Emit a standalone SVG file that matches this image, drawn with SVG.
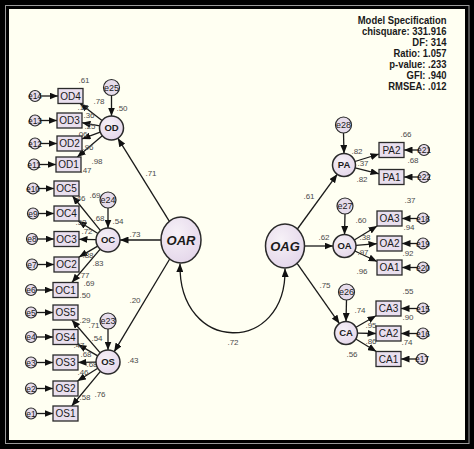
<svg xmlns="http://www.w3.org/2000/svg" width="474" height="449" viewBox="0 0 474 449">
<defs>
<marker id="ah" markerUnits="userSpaceOnUse" markerWidth="9" markerHeight="7" refX="8.5" refY="3.5" orient="auto-start-reverse"><path d="M0,0 L8.5,3.5 L0,7 z" fill="#111"/></marker>
<radialGradient id="lg" cx="0.4" cy="0.35" r="0.7"><stop offset="0" stop-color="#F6F1F7"/><stop offset="1" stop-color="#E4D6EA"/></radialGradient>
<style>
.ln{stroke:#1a1a1a;stroke-width:1.3;fill:none;marker-end:url(#ah)}
.rc{fill:#E9DFEE;stroke:#2a2a2a;stroke-width:1.3}
.lat{fill:url(#lg);stroke:#2a2a2a;stroke-width:1.5}
.er{fill:#E6DCEB;stroke:#2a2a2a;stroke-width:1.2}
text{font-family:"Liberation Sans",Arial,sans-serif;fill:#1a1a1a;text-anchor:middle}
.tr{font-size:10px}
.tl{font-size:9.5px;font-weight:bold}
.tb{font-size:13px;font-weight:bold;font-style:italic}
.te{font-size:9px}
.ts{font-size:8.5px}
.tc{font-size:8px;fill:#4a4a4a}
.fit{font-size:11px;font-weight:bold;text-anchor:end}
</style>
</defs>
<rect x="0" y="0" width="474" height="449" fill="#000"/>
<rect x="5.5" y="5.5" width="463.5" height="438" fill="none" stroke="#9a9a9a" stroke-width="1"/>
<rect x="9" y="9" width="456" height="431" fill="#FFFFF2"/>

<g id="fit" transform="translate(446.5,0) scale(0.86,1)">
<text class="fit" x="0" y="24">Model Specification</text>
<text class="fit" x="0" y="35">chisquare: 331.916</text>
<text class="fit" x="0" y="46">DF: 314</text>
<text class="fit" x="0" y="57">Ratio: 1.057</text>
<text class="fit" x="0" y="68">p-value: .233</text>
<text class="fit" x="0" y="79">GFI: .940</text>
<text class="fit" x="0" y="90">RMSEA: .012</text>
</g>

<g id="connectors">
<line class="ln" x1="40.5" y1="96" x2="58" y2="96"/>
<line class="ln" x1="40.5" y1="120.5" x2="57" y2="120.5"/>
<line class="ln" x1="40.5" y1="143.5" x2="57" y2="143.5"/>
<line class="ln" x1="39.5" y1="164.5" x2="56" y2="164.5"/>
<line class="ln" x1="38.5" y1="188.5" x2="54" y2="188.5"/>
<line class="ln" x1="38.5" y1="213.5" x2="54" y2="213.5"/>
<line class="ln" x1="37.5" y1="239" x2="54" y2="239"/>
<line class="ln" x1="37.5" y1="264.5" x2="54" y2="264.5"/>
<line class="ln" x1="36.5" y1="290" x2="53" y2="290"/>
<line class="ln" x1="36.5" y1="312.5" x2="53" y2="312.5"/>
<line class="ln" x1="36.5" y1="337" x2="53" y2="337"/>
<line class="ln" x1="36.5" y1="362.5" x2="53" y2="362.5"/>
<line class="ln" x1="36.5" y1="388.5" x2="53" y2="388.5"/>
<line class="ln" x1="36.5" y1="413.5" x2="53" y2="413.5"/>
<line class="ln" x1="102" y1="120.6" x2="80.1" y2="103.5"/>
<line class="ln" x1="99.7" y1="125.9" x2="82" y2="122.7"/>
<line class="ln" x1="100.2" y1="132.2" x2="82" y2="138.9"/>
<line class="ln" x1="102.3" y1="135.8" x2="77.3" y2="157"/>
<line class="ln" x1="100.5" y1="230.7" x2="72.5" y2="196"/>
<line class="ln" x1="97.9" y1="233.5" x2="78.2" y2="221"/>
<line class="ln" x1="96" y1="239.7" x2="79" y2="239.3"/>
<line class="ln" x1="97.7" y1="246.1" x2="79" y2="257.1"/>
<line class="ln" x1="100.2" y1="249.1" x2="71.9" y2="282.5"/>
<line class="ln" x1="100.2" y1="352.9" x2="71.9" y2="320"/>
<line class="ln" x1="97.7" y1="355.9" x2="78" y2="344.4"/>
<line class="ln" x1="96" y1="362.1" x2="78" y2="362.4"/>
<line class="ln" x1="97.8" y1="368.3" x2="77.5" y2="381"/>
<line class="ln" x1="100.4" y1="371.3" x2="71.7" y2="406"/>
<line class="ln" x1="111.5" y1="95.5" x2="111.5" y2="116"/>
<line class="ln" x1="108" y1="208" x2="108" y2="228"/>
<line class="ln" x1="108" y1="329" x2="108" y2="350"/>
<line class="ln" x1="343.5" y1="133" x2="344" y2="153.5"/>
<line class="ln" x1="345" y1="214" x2="344.5" y2="234.5"/>
<line class="ln" x1="346.5" y1="300" x2="346" y2="321.5"/>
<line class="ln" x1="169.4" y1="221.3" x2="117.8" y2="138.2"/>
<line class="ln" x1="161" y1="240" x2="120" y2="240"/>
<line class="ln" x1="169.7" y1="259" x2="114.2" y2="351.7"/>
<line class="ln" x1="297.4" y1="229" x2="337.2" y2="174.3"/>
<line class="ln" x1="304.5" y1="246" x2="333" y2="246"/>
<line class="ln" x1="297.1" y1="263.3" x2="339.4" y2="323.6"/>
<line class="ln" x1="355" y1="161.5" x2="379" y2="154"/>
<line class="ln" x1="355.1" y1="167.8" x2="379" y2="173.8"/>
<line class="ln" x1="354.3" y1="240" x2="377.2" y2="226"/>
<line class="ln" x1="356" y1="245.4" x2="377" y2="243.7"/>
<line class="ln" x1="354.9" y1="251" x2="377" y2="261.5"/>
<line class="ln" x1="356" y1="327.3" x2="376" y2="315.7"/>
<line class="ln" x1="357.5" y1="333.1" x2="376" y2="333.5"/>
<line class="ln" x1="355.8" y1="339" x2="376.3" y2="351.5"/>
<line class="ln" x1="418.5" y1="150" x2="404" y2="150"/>
<line class="ln" x1="418.5" y1="177" x2="404" y2="177"/>
<line class="ln" x1="417.5" y1="218.5" x2="402" y2="218.5"/>
<line class="ln" x1="417.5" y1="243.5" x2="402" y2="243.5"/>
<line class="ln" x1="417.5" y1="267.5" x2="402" y2="267.5"/>
<line class="ln" x1="417.5" y1="308.5" x2="401" y2="308.5"/>
<line class="ln" x1="417.5" y1="333.5" x2="401" y2="333.5"/>
<line class="ln" x1="416.5" y1="359" x2="401" y2="359"/>
<path d="M180,263.5 C178,355 287,355 285,268.5" stroke="#1a1a1a" stroke-width="1.3" fill="none" marker-start="url(#ah)" marker-end="url(#ah)"/>
</g>

<g id="coefficients">
<text class="tc" x="84" y="83">.61</text>
<text class="tc" x="99" y="104">.78</text>
<text class="tc" x="122" y="111">.50</text>
<text class="tc" x="83" y="110">.13</text>
<text class="tc" x="89" y="118">.36</text>
<text class="tc" x="90" y="129">.25</text>
<text class="tc" x="82" y="137">.06</text>
<text class="tc" x="88" y="150">.96</text>
<text class="tc" x="97" y="164">.98</text>
<text class="tc" x="86" y="173">.47</text>
<text class="tc" x="95" y="198">.69</text>
<text class="tc" x="80" y="201">.46</text>
<text class="tc" x="99" y="221">.68</text>
<text class="tc" x="118" y="224">.54</text>
<text class="tc" x="81" y="225">.52</text>
<text class="tc" x="87" y="234">.72</text>
<text class="tc" x="135" y="237">.73</text>
<text class="tc" x="88" y="258">.88</text>
<text class="tc" x="98" y="266">.83</text>
<text class="tc" x="84" y="278">.77</text>
<text class="tc" x="89" y="286">.69</text>
<text class="tc" x="85" y="298">.50</text>
<text class="tc" x="135" y="303">.20</text>
<text class="tc" x="85" y="323">.29</text>
<text class="tc" x="94" y="328">.71</text>
<text class="tc" x="97" y="341">.54</text>
<text class="tc" x="79" y="348">.47</text>
<text class="tc" x="86" y="357">.68</text>
<text class="tc" x="92" y="367">.68</text>
<text class="tc" x="83" y="375">.46</text>
<text class="tc" x="133" y="363">.43</text>
<text class="tc" x="85" y="400">.58</text>
<text class="tc" x="100" y="397">.76</text>
<text class="tc" x="151" y="176">.71</text>
<text class="tc" x="233" y="345">.72</text>
<text class="tc" x="406" y="137">.66</text>
<text class="tc" x="357" y="154">.82</text>
<text class="tc" x="413" y="163">.68</text>
<text class="tc" x="363" y="166">.37</text>
<text class="tc" x="362" y="182">.82</text>
<text class="tc" x="309" y="199">.61</text>
<text class="tc" x="410" y="203">.37</text>
<text class="tc" x="361" y="223">.60</text>
<text class="tc" x="409" y="230">.94</text>
<text class="tc" x="365" y="240">.38</text>
<text class="tc" x="324" y="240">.62</text>
<text class="tc" x="363" y="255">.97</text>
<text class="tc" x="408" y="256">.92</text>
<text class="tc" x="362" y="274">.96</text>
<text class="tc" x="325" y="288">.75</text>
<text class="tc" x="408" y="294">.55</text>
<text class="tc" x="360" y="313">.74</text>
<text class="tc" x="408" y="320">.90</text>
<text class="tc" x="371" y="328">.95</text>
<text class="tc" x="371" y="344">.86</text>
<text class="tc" x="407" y="345">.74</text>
<text class="tc" x="352" y="357">.56</text>
</g>

<g id="OAR"><ellipse class="lat" cx="181" cy="240" rx="20" ry="23"/><text class="tb" x="181" y="244.7">OAR</text></g>
<g id="OAG"><ellipse class="lat" cx="285" cy="246" rx="19.5" ry="22"/><text class="tb" x="285" y="250.7">OAG</text></g>
<g id="OD"><circle class="lat" cx="111.5" cy="128" r="12"/><text class="tl" x="111.5" y="131.4">OD</text></g>
<g id="OC"><circle class="lat" cx="108" cy="240" r="12"/><text class="tl" x="108" y="243.4">OC</text></g>
<g id="OS"><circle class="lat" cx="108" cy="362" r="12"/><text class="tl" x="108" y="365.4">OS</text></g>
<g id="PA"><circle class="lat" cx="344" cy="165" r="11.5"/><text class="tl" x="344" y="168.4">PA</text></g>
<g id="OA"><circle class="lat" cx="344.5" cy="246" r="11.5"/><text class="tl" x="344.5" y="249.4">OA</text></g>
<g id="CA"><circle class="lat" cx="346" cy="333" r="11.5"/><text class="tl" x="346" y="336.4">CA</text></g>

<g id="e25"><circle class="er" cx="111.5" cy="87.5" r="8"/><text class="te" x="111.5" y="90.7">e25</text></g>
<g id="e24"><circle class="er" cx="108" cy="200" r="8"/><text class="te" x="108" y="203.2">e24</text></g>
<g id="e23"><circle class="er" cx="108" cy="321" r="8"/><text class="te" x="108" y="324.2">e23</text></g>
<g id="e28"><circle class="er" cx="343.5" cy="125" r="8"/><text class="te" x="343.5" y="128.2">e28</text></g>
<g id="e27"><circle class="er" cx="345" cy="206" r="8"/><text class="te" x="345" y="209.2">e27</text></g>
<g id="e26"><circle class="er" cx="346.5" cy="292" r="8"/><text class="te" x="346.5" y="295.2">e26</text></g>

<g id="OD4"><rect class="rc" x="58" y="88.5" width="25" height="15"/><text class="tr" x="70.5" y="99.6">OD4</text></g>
<g id="OD3"><rect class="rc" x="57" y="113" width="25" height="15"/><text class="tr" x="69.5" y="124.1">OD3</text></g>
<g id="OD2"><rect class="rc" x="57" y="136" width="25" height="15"/><text class="tr" x="69.5" y="147.1">OD2</text></g>
<g id="OD1"><rect class="rc" x="56" y="157" width="25" height="15"/><text class="tr" x="68.5" y="168.1">OD1</text></g>
<g id="OC5"><rect class="rc" x="54" y="181" width="25" height="15"/><text class="tr" x="66.5" y="192.1">OC5</text></g>
<g id="OC4"><rect class="rc" x="54" y="206" width="25" height="15"/><text class="tr" x="66.5" y="217.1">OC4</text></g>
<g id="OC3"><rect class="rc" x="54" y="231.5" width="25" height="15"/><text class="tr" x="66.5" y="242.6">OC3</text></g>
<g id="OC2"><rect class="rc" x="54" y="257" width="25" height="15"/><text class="tr" x="66.5" y="268.1">OC2</text></g>
<g id="OC1"><rect class="rc" x="53" y="282.5" width="25" height="15"/><text class="tr" x="65.5" y="293.6">OC1</text></g>
<g id="OS5"><rect class="rc" x="53" y="305" width="25" height="15"/><text class="tr" x="65.5" y="316.1">OS5</text></g>
<g id="OS4"><rect class="rc" x="53" y="329.5" width="25" height="15"/><text class="tr" x="65.5" y="340.6">OS4</text></g>
<g id="OS3"><rect class="rc" x="53" y="355" width="25" height="15"/><text class="tr" x="65.5" y="366.1">OS3</text></g>
<g id="OS2"><rect class="rc" x="53" y="381" width="25" height="15"/><text class="tr" x="65.5" y="392.1">OS2</text></g>
<g id="OS1"><rect class="rc" x="53" y="406" width="25" height="15"/><text class="tr" x="65.5" y="417.1">OS1</text></g>

<g id="e14"><circle class="er" cx="35" cy="96" r="5.5"/><text class="ts" x="35" y="99">e14</text></g>
<g id="e13"><circle class="er" cx="35" cy="120.5" r="5.5"/><text class="ts" x="35" y="123.5">e13</text></g>
<g id="e12"><circle class="er" cx="35" cy="143.5" r="5.5"/><text class="ts" x="35" y="146.5">e12</text></g>
<g id="e11"><circle class="er" cx="34" cy="164.5" r="5.5"/><text class="ts" x="34" y="167.5">e11</text></g>
<g id="e10"><circle class="er" cx="33" cy="188.5" r="5.5"/><text class="ts" x="33" y="191.5">e10</text></g>
<g id="e9"><circle class="er" cx="33" cy="213.5" r="5.5"/><text class="ts" x="33" y="216.5">e9</text></g>
<g id="e8"><circle class="er" cx="32" cy="239" r="5.5"/><text class="ts" x="32" y="242">e8</text></g>
<g id="e7"><circle class="er" cx="32" cy="264.5" r="5.5"/><text class="ts" x="32" y="267.5">e7</text></g>
<g id="e6"><circle class="er" cx="31" cy="290" r="5.5"/><text class="ts" x="31" y="293">e6</text></g>
<g id="e5"><circle class="er" cx="31" cy="312.5" r="5.5"/><text class="ts" x="31" y="315.5">e5</text></g>
<g id="e4"><circle class="er" cx="31" cy="337" r="5.5"/><text class="ts" x="31" y="340">e4</text></g>
<g id="e3"><circle class="er" cx="31" cy="362.5" r="5.5"/><text class="ts" x="31" y="365.5">e3</text></g>
<g id="e2"><circle class="er" cx="31" cy="388.5" r="5.5"/><text class="ts" x="31" y="391.5">e2</text></g>
<g id="e1"><circle class="er" cx="31" cy="413.5" r="5.5"/><text class="ts" x="31" y="416.5">e1</text></g>

<g id="PA2"><rect class="rc" x="379" y="142.5" width="25" height="15"/><text class="tr" x="391.5" y="153.6">PA2</text></g>
<g id="PA1"><rect class="rc" x="379" y="169.5" width="25" height="15"/><text class="tr" x="391.5" y="180.6">PA1</text></g>
<g id="OA3"><rect class="rc" x="377" y="211" width="25" height="15"/><text class="tr" x="389.5" y="222.1">OA3</text></g>
<g id="OA2"><rect class="rc" x="377" y="236" width="25" height="15"/><text class="tr" x="389.5" y="247.1">OA2</text></g>
<g id="OA1"><rect class="rc" x="377" y="260" width="25" height="15"/><text class="tr" x="389.5" y="271.1">OA1</text></g>
<g id="CA3"><rect class="rc" x="376" y="301" width="25" height="15"/><text class="tr" x="388.5" y="312.1">CA3</text></g>
<g id="CA2"><rect class="rc" x="376" y="326" width="25" height="15"/><text class="tr" x="388.5" y="337.1">CA2</text></g>
<g id="CA1"><rect class="rc" x="376" y="351.5" width="25" height="15"/><text class="tr" x="388.5" y="362.6">CA1</text></g>

<g id="e21"><circle class="er" cx="424" cy="150" r="5.5"/><text class="ts" x="424" y="153">e21</text></g>
<g id="e22"><circle class="er" cx="424" cy="177" r="5.5"/><text class="ts" x="424" y="180">e22</text></g>
<g id="e18"><circle class="er" cx="423" cy="218.5" r="5.5"/><text class="ts" x="423" y="221.5">e18</text></g>
<g id="e19"><circle class="er" cx="423" cy="243.5" r="5.5"/><text class="ts" x="423" y="246.5">e19</text></g>
<g id="e20"><circle class="er" cx="423" cy="267.5" r="5.5"/><text class="ts" x="423" y="270.5">e20</text></g>
<g id="e15"><circle class="er" cx="423" cy="308.5" r="5.5"/><text class="ts" x="423" y="311.5">e15</text></g>
<g id="e16"><circle class="er" cx="423" cy="333.5" r="5.5"/><text class="ts" x="423" y="336.5">e16</text></g>
<g id="e17"><circle class="er" cx="422" cy="359" r="5.5"/><text class="ts" x="422" y="362">e17</text></g>
</svg>
